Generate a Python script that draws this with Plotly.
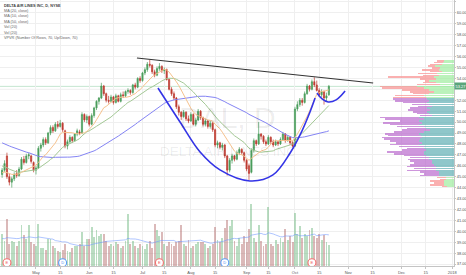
import numpy as np
import pandas as pd
import plotly.graph_objects as go

# ---------------- data ----------------
holidays_2017 = ["2017-04-14", "2017-05-29", "2017-07-04", "2017-09-04"]
first_day = "2017-04-10"
last_day = "2017-10-20"

opens = [45.2, 45.6, 46.9, 45.0, 44.5, 44.8, 45.3, 45.1, 45.7, 46.6,
         46.3, 46.9, 46.9, 46.3, 45.6, 45.8, 47.6, 47.9, 48.4, 48.1,
         49.0, 49.5, 49.2, 49.8, 49.6, 49.9, 49.2, 47.8, 48.2, 48.6,
         48.3, 48.9, 49.1, 49.0, 50.7, 50.2, 50.5, 49.8, 50.6, 51.3,
         51.9, 52.2, 53.3, 52.6, 52.0, 51.9, 52.3, 51.8, 52.4, 51.9,
         52.5, 52.4, 52.8, 52.9, 52.7, 53.4, 53.2, 54.0, 53.8, 54.5,
         54.8, 55.3, 55.2, 54.6, 54.3, 54.9, 55.1, 54.7, 54.8, 53.9,
         53.0, 52.6, 52.2, 51.4, 50.9, 50.5, 50.9, 50.3, 50.1, 50.7,
         49.8, 50.2, 51.0, 50.4, 49.8, 50.1, 49.6, 49.9, 49.3, 47.9,
         48.1, 47.7, 47.9, 46.9, 45.6, 46.5, 46.9, 46.6, 47.2, 47.5,
         47.2, 46.5, 46.0, 45.4, 47.4, 48.3, 48.0, 48.9, 48.7, 48.2,
         48.0, 48.6, 48.2, 47.9, 48.2, 48.0, 48.4, 48.9, 48.3, 48.6,
         48.1, 47.8, 51.2, 51.6, 52.0, 51.8, 52.6, 53.3, 53.0, 53.7,
         53.4, 52.9, 52.5, 52.8, 52.2, 52.5]
highs = [45.8, 46.5, 47.2, 45.3, 45.0, 45.4, 45.6, 45.9, 46.8, 46.9,
         47.1, 47.2, 47.0, 46.4, 46.0, 47.8, 48.1, 48.6, 48.6, 49.1,
         49.7, 49.7, 50.0, 50.1, 50.2, 50.0, 49.3, 48.4, 48.8, 48.7,
         49.0, 49.4, 49.3, 50.9, 50.8, 50.7, 50.6, 50.8, 51.4, 52.0,
         52.3, 53.6, 53.4, 52.7, 52.4, 52.5, 52.4, 52.6, 52.5, 52.7,
         52.8, 52.9, 53.1, 53.0, 53.5, 53.6, 54.1, 54.2, 54.6, 55.0,
         55.5, 55.7, 55.3, 54.8, 55.1, 55.4, 55.2, 55.0, 54.9, 54.0,
         53.2, 52.8, 52.3, 51.6, 51.0, 51.1, 51.0, 50.6, 50.9, 50.8,
         50.4, 51.2, 51.1, 50.5, 50.3, 50.2, 50.1, 50.0, 49.4, 48.3,
         48.2, 48.1, 48.0, 47.0, 46.7, 47.1, 47.0, 47.4, 47.7, 47.6,
         47.3, 46.6, 46.2, 47.6, 48.5, 48.4, 50.0, 49.0, 48.8, 48.4,
         48.8, 48.7, 48.4, 48.4, 48.3, 48.6, 49.1, 49.0, 48.8, 48.7,
         48.3, 51.4, 51.9, 52.2, 52.2, 52.8, 53.5, 53.4, 53.9, 54.1,
         53.8, 53.1, 53.0, 52.9, 52.7, 53.4]
lows = [44.9, 45.4, 44.8, 44.2, 44.0, 44.6, 44.9, 45.0, 45.6, 46.1,
        46.2, 46.6, 46.2, 45.4, 45.2, 45.7, 47.3, 47.7, 47.9, 48.0,
        48.8, 49.0, 49.1, 49.4, 49.5, 49.1, 47.6, 47.5, 48.0, 48.1,
        48.2, 48.7, 48.8, 48.9, 50.0, 49.9, 49.6, 49.7, 50.4, 51.1,
        51.6, 52.1, 52.4, 51.8, 51.7, 51.8, 51.6, 51.7, 51.8, 51.8,
        52.2, 52.3, 52.6, 52.5, 52.6, 53.0, 53.1, 53.6, 53.7, 54.3,
        54.6, 55.0, 54.4, 54.1, 54.2, 54.7, 54.5, 54.4, 53.8, 52.9,
        52.4, 52.0, 51.2, 50.6, 50.2, 50.4, 50.1, 49.9, 50.0, 49.7,
        49.6, 50.1, 50.2, 49.6, 49.6, 49.4, 49.4, 49.1, 47.7, 47.6,
        47.5, 47.4, 46.7, 45.1, 45.4, 46.2, 46.4, 46.5, 47.0, 47.0,
        46.3, 45.5, 44.7, 45.3, 47.2, 47.8, 47.9, 48.4, 48.0, 47.8,
        47.9, 48.0, 47.7, 47.8, 47.8, 47.9, 48.3, 48.1, 48.2, 47.9,
        47.7, 47.7, 51.0, 51.4, 51.5, 51.7, 52.5, 52.8, 52.9, 53.2,
        52.8, 52.3, 52.3, 51.6, 51.9, 52.4]
closes = [45.6, 46.2, 45.0, 44.5, 44.8, 45.2, 45.1, 45.7, 46.6, 46.3,
          46.9, 47.0, 46.4, 45.6, 45.8, 47.6, 47.9, 48.4, 48.1, 49.0,
          49.5, 49.2, 49.8, 49.6, 49.9, 49.3, 47.8, 48.2, 48.6, 48.3,
          48.9, 49.2, 49.0, 50.7, 50.2, 50.5, 49.8, 50.6, 51.3, 51.9,
          52.2, 53.3, 52.6, 52.0, 51.9, 52.3, 51.8, 52.4, 51.9, 52.5,
          52.4, 52.8, 52.9, 52.7, 53.4, 53.2, 54.0, 53.8, 54.5, 54.8,
          55.3, 55.2, 54.6, 54.3, 54.9, 55.1, 54.7, 54.8, 53.9, 53.0,
          52.6, 52.2, 51.4, 50.9, 50.5, 50.9, 50.3, 50.1, 50.7, 49.8,
          50.2, 51.0, 50.4, 49.8, 50.1, 49.6, 49.9, 49.3, 47.9, 48.1,
          47.7, 47.9, 46.9, 45.6, 46.5, 46.9, 46.6, 47.2, 47.5, 47.2,
          46.5, 45.7, 45.3, 47.4, 48.3, 48.0, 48.9, 48.7, 48.2, 48.0,
          48.6, 48.2, 47.9, 48.2, 48.0, 48.4, 48.9, 48.3, 48.6, 48.1,
          47.8, 51.2, 51.6, 52.0, 51.8, 52.6, 53.3, 53.0, 53.7, 53.4,
          52.9, 52.5, 52.8, 52.2, 52.4, 53.27]
volumes_m = [12.8, 10.0, 18.8, 8.8, 10.0, 9.6, 8.0, 10.0, 16.4, 12.4,
             10.8, 16.4, 9.6, 8.8, 8.0, 16.8, 7.2, 7.2, 6.4, 10.8,
             10.8, 8.0, 7.2, 6.0, 5.6, 6.4, 8.8, 6.0, 5.6, 7.2,
             8.0, 8.0, 8.8, 13.6, 8.0, 10.8, 10.8, 15.6, 11.6, 14.4,
             12.0, 12.8, 12.8, 10.0, 8.0, 8.8, 8.0, 9.6, 8.8, 7.2,
             8.0, 10.0, 20.8, 8.8, 10.0, 8.0, 7.2, 8.8, 8.0, 6.8,
             8.8, 10.0, 7.2, 16.8, 14.4, 12.0, 13.6, 8.8, 8.0, 9.6,
             8.8, 8.0, 9.6, 10.0, 16.4, 8.8, 8.0, 10.4, 7.2, 8.0,
             8.8, 9.6, 9.6, 9.6, 8.8, 7.2, 8.0, 8.8, 15.6, 10.4,
             9.6, 11.2, 15.2, 18.4, 16.0, 18.4, 10.0, 8.0, 11.2, 8.8,
             12.0, 9.6, 14.8, 24.8, 11.2, 9.6, 16.4, 10.0, 8.0, 8.8,
             23.6, 8.8, 8.0, 10.4, 8.8, 11.2, 9.6, 14.8, 10.4, 12.0,
             9.6, 21.2, 12.8, 16.0, 11.2, 12.8, 12.0, 14.4, 15.2, 12.0,
             11.2, 12.8, 10.4, 12.4, 9.6, 8.4]

# sessions before the first visible bar (only used to warm up the moving averages)
closes_before = [49.6, 49.9, 50.3, 49.8, 49.2, 49.5, 50.1, 50.6, 50.2, 49.7,
                 49.4, 49.8, 50.4, 50.9, 50.5, 50.0, 49.6, 49.3, 49.7, 50.2,
                 49.8, 49.1, 48.7, 48.9, 49.4, 49.0, 48.5, 48.2, 48.6, 48.3,
                 47.8, 47.4, 46.9, 47.2, 46.8, 46.5, 46.9, 46.3, 45.9, 46.2,
                 45.8, 45.4, 45.7, 45.3, 45.6, 45.2, 45.0, 45.4, 45.1, 45.3]
volumes_before = [11.0, 10.4, 12.0, 9.6, 10.8, 11.6, 9.2, 10.0, 12.4, 10.8,
                  9.6, 11.2, 12.8, 10.4, 9.8, 11.0, 12.2, 10.6, 11.4]

tick_dates = ["2017-05-01", "2017-05-15", "2017-06-01", "2017-06-15", "2017-07-01",
              "2017-07-15", "2017-08-01", "2017-08-15", "2017-09-01", "2017-09-15",
              "2017-10-01", "2017-10-15", "2017-11-01", "2017-11-15", "2017-12-01",
              "2017-12-15", "2018-01-01"]
tick_labels = ["May", "15", "Jun", "15", "Jul", "15", "Aug", "15", "Sep", "15",
               "Oct", "15", "Nov", "15", "Dec", "15", "2018"]
price_ticks = list(range(37, 62))

earnings_dates = ["2017-04-12", "2017-07-13", "2017-10-11"]
dividend_dates = ["2017-05-16", "2017-08-21"]

# Volume profile (70 rows, listed from the top price row down), up / down volume
vpvr_up = [10, 11, 12, 19, 14, 15, 12, 17, 15, 20, 18, 25, 18, 14, 37, 30, 25, 20, 25, 30,
           28, 27, 25, 27, 25, 22, 27, 24, 27, 25, 22, 35, 30, 35, 32, 35, 30, 28, 24, 30,
           35, 33, 32, 34, 35, 32, 35, 30, 30, 28, 30, 30, 28, 25, 25, 22, 22, 20, 18, 18,
           18, 15, 15, 15, 8, 8, 10, 10, 10, 7]
vpvr_down = [7, 9, 12, 7, 8, 17, 12, 19, 16, 46, 16, 4, 13, 23, 37, 42, 27, 24, 16, 29,
             33, 34, 34, 24, 17, 14, 17, 22, 14, 12, 12, 39, 39, 19, 39, 29, 27, 19, 28, 30,
             34, 33, 40, 36, 29, 26, 29, 25, 17, 24, 37, 30, 22, 19, 21, 22, 18, 24, 29, 22,
             29, 19, 15, 19, 9, 6, 14, 10, 14, 5]
value_area_rows = (21, 63)

# drawings (bar index, price)
trend_x = [55.7, 153.3]
trend_y = [55.87, 53.58]
cup_x = [64.4, 73.5, 81.8, 90.0, 102.4, 111.9, 119.0, 123.1, 127.2, 129.3]
cup_y = [53.12, 50.01, 47.26, 45.62, 44.61, 45.16, 47.17, 48.82, 50.93, 52.21]
handle_x = [130.1, 132.2, 134.7, 138.0, 141.7]
handle_y = [52.67, 52.12, 51.84, 52.03, 52.85]

legend_lines = ["DELTA AIR LINES INC, D, NYSE", "MA (20, close)", "MA (10, close)",
                "MA (50, close)", "Vol (20)", "Vol (20)",
                "VPVR (Number Of Rows, 70, Up/Down, 70)"]

# ---------------- derived ----------------
bars = pd.bdate_range(first_day, last_day, freq="C", holidays=holidays_2017)
future = pd.bdate_range(bars[-1] + pd.Timedelta(days=1), "2018-01-31")
calendar = bars.append(future)
n = len(closes)
x = np.arange(n)


def cal_index(d):
    return int(np.searchsorted(calendar.values, np.datetime64(pd.Timestamp(d))))


tickvals = [cal_index(d) for d in tick_dates]

all_close = pd.Series(closes_before + closes)
k0 = len(closes_before)
ma10 = all_close.rolling(10).mean().iloc[k0:].values
ma20 = all_close.rolling(20).mean().iloc[k0:].values
ma50 = all_close.rolling(50).mean().iloc[k0:].values
all_vol = pd.Series(volumes_before + volumes_m)
vma = all_vol.rolling(20).mean().iloc[len(volumes_before):].values

UP = "#4a9d5b"
DN = "#bf3b31"
up_mask = np.array(closes) >= np.array(opens)
last = closes[-1]

# the last-price badge hides the price label it covers
y_tickvals = [p for p in price_ticks if abs(p - last) > 0.6]

fig = go.Figure()

# volume
vol = np.array(volumes_m)
fig.add_trace(go.Bar(x=x[up_mask], y=vol[up_mask], yaxis="y2", width=0.78,
                     marker=dict(color="rgba(90,175,110,0.42)", line=dict(width=0)),
                     hoverinfo="skip"))
fig.add_trace(go.Bar(x=x[~up_mask], y=vol[~up_mask], yaxis="y2", width=0.78,
                     marker=dict(color="rgba(175,100,100,0.45)", line=dict(width=0)),
                     hoverinfo="skip"))
fig.add_trace(go.Scatter(x=x, y=vma, yaxis="y2", mode="lines",
                         line=dict(color="rgba(110,150,255,0.55)", width=1), hoverinfo="skip"))

# volume profile
lo, hi = min(lows), max(highs)
rows = len(vpvr_up)
row_h = (hi - lo) / rows
row_c = [hi - row_h * (k + 0.5) for k in range(rows)]
in_va = [value_area_rows[0] <= k <= value_area_rows[1] for k in range(rows)]
up_cols = ["rgba(95,175,180,0.7)" if v else "rgba(150,235,150,0.65)" for v in in_va]
dn_cols = ["rgba(185,105,205,0.7)" if v else "rgba(248,150,150,0.75)" for v in in_va]
fig.add_trace(go.Bar(y=row_c, x=vpvr_up, base=[0] * rows, orientation="h", xaxis="x2",
                     yaxis="y", width=row_h * 0.82, marker=dict(color=up_cols, line=dict(width=0)),
                     hoverinfo="skip"))
fig.add_trace(go.Bar(y=row_c, x=vpvr_down, base=vpvr_up, orientation="h", xaxis="x2",
                     yaxis="y", width=row_h * 0.82, marker=dict(color=dn_cols, line=dict(width=0)),
                     hoverinfo="skip"))
vp_max = max(u + d for u, d in zip(vpvr_up, vpvr_down))

# moving averages
fig.add_trace(go.Scatter(x=x, y=ma50, mode="lines", line=dict(color="#8484f4", width=1), hoverinfo="skip"))
fig.add_trace(go.Scatter(x=x, y=ma20, mode="lines", line=dict(color="#a3c895", width=1), hoverinfo="skip"))
fig.add_trace(go.Scatter(x=x, y=ma10, mode="lines", line=dict(color="#f6c28e", width=1), hoverinfo="skip"))

# candles
fig.add_trace(go.Candlestick(x=x, open=opens, high=highs, low=lows, close=closes,
                             increasing=dict(line=dict(color=UP, width=0.7), fillcolor=UP),
                             decreasing=dict(line=dict(color=DN, width=0.7), fillcolor=DN),
                             whiskerwidth=0, hoverinfo="skip"))

# drawings
fig.add_trace(go.Scatter(x=trend_x, y=trend_y, mode="lines",
                         line=dict(color="#333333", width=1.2), hoverinfo="skip"))
fig.add_trace(go.Scatter(x=cup_x, y=cup_y, mode="lines", line_shape="spline",
                         line=dict(color="#3434e6", width=1.6), hoverinfo="skip"))
fig.add_trace(go.Scatter(x=handle_x, y=handle_y, mode="lines", line_shape="spline",
                         line=dict(color="#3434e6", width=1.6), hoverinfo="skip"))

# events
ex = [cal_index(d) for d in earnings_dates]
dx = [cal_index(d) for d in dividend_dates]
fig.add_trace(go.Scatter(x=ex, y=[0.012] * len(ex), yaxis="y3", mode="markers+text",
                         text=["E"] * len(ex), textposition="middle center",
                         textfont=dict(size=4, color="#f05a5a", family="Liberation Sans"),
                         marker=dict(size=8, color="white", line=dict(color="#f27070", width=1.1)),
                         hoverinfo="skip"))
fig.add_trace(go.Scatter(x=dx, y=[0.012] * len(dx), yaxis="y3", mode="markers+text",
                         text=["D"] * len(dx), textposition="middle center",
                         textfont=dict(size=4, color="#4f8ff0", family="Liberation Sans"),
                         marker=dict(size=8, color="white", line=dict(color="#5c9cf4", width=1.1)),
                         hoverinfo="skip"))

PLOT_H = 266

annotations = [
    dict(text="DAL, D", xref="paper", yref="paper", x=0.502, y=1 - 117 / PLOT_H,
         showarrow=False, font=dict(size=30, color="rgba(0,0,0,0.08)", family="Liberation Sans")),
    dict(text="DELTA AIR LINES INC", xref="paper", yref="paper", x=0.502, y=1 - 151 / PLOT_H,
         showarrow=False, font=dict(size=13.5, color="rgba(0,0,0,0.08)", family="Liberation Sans")),
    dict(text=f"{last:.2f}", xref="paper", x=1.0, xanchor="left", yref="y", y=last,
         showarrow=False, bgcolor="#5aa57b", borderpad=0.5,
         font=dict(size=4, color="white", family="Liberation Sans")),
]
for k, t in enumerate(legend_lines):
    annotations.append(dict(text=("<b>" + t + "</b>") if k == 0 else t, xref="paper", yref="paper",
                            x=0.004, y=1 - (5.7 + 5.4 * k) / PLOT_H, xanchor="left", yanchor="middle",
                            showarrow=False,
                            font=dict(size=3.8, color="#444" if k == 0 else "#666",
                                      family="Liberation Sans")))

fig.update_layout(
    template="none",
    width=466, height=275,
    margin=dict(l=0, r=12, t=0, b=9, pad=0),
    paper_bgcolor="white", plot_bgcolor="white",
    showlegend=False, barmode="overlay", bargap=0,
    xaxis=dict(range=[-0.87, 186.7], tickmode="array", tickvals=tickvals, ticktext=tick_labels,
               showgrid=True, gridcolor="#efefef", gridwidth=1, zeroline=False,
               showline=True, linecolor="#c4c4c4", linewidth=1, ticks="outside", ticklen=2,
               tickcolor="#c4c4c4", tickfont=dict(size=4, color="#555", family="Liberation Sans"),
               rangeslider=dict(visible=False), automargin=False, fixedrange=True),
    xaxis2=dict(overlaying="x", range=[vp_max / 0.163, 0], visible=False, automargin=False),
    yaxis=dict(side="right", range=[36.82, 61.18], tickmode="array", tickvals=y_tickvals,
               tickformat=".2f",
               showgrid=True, gridcolor="#efefef", gridwidth=1, zeroline=False,
               showline=True, linecolor="#c4c4c4", linewidth=1, ticks="outside", ticklen=1,
               tickcolor="#c4c4c4", tickfont=dict(size=4, color="#555", family="Liberation Sans"),
               automargin=False, fixedrange=True),
    yaxis2=dict(overlaying="y", range=[0, 106.4], visible=False, automargin=False),
    yaxis3=dict(overlaying="y", range=[0, 1], visible=False, automargin=False),
    shapes=[dict(type="line", xref="paper", x0=0, x1=1, yref="y", y0=last, y1=last,
                 line=dict(color="rgba(90,185,120,0.45)", width=0.8), layer="below"),
            dict(type="line", xref="paper", x0=0, x1=1, yref="y", y0=53, y1=53,
                 line=dict(color="#efefef", width=1), layer="below")],
    annotations=annotations,
)

fig.write_html("out.html", config={"displayModeBar": False})
